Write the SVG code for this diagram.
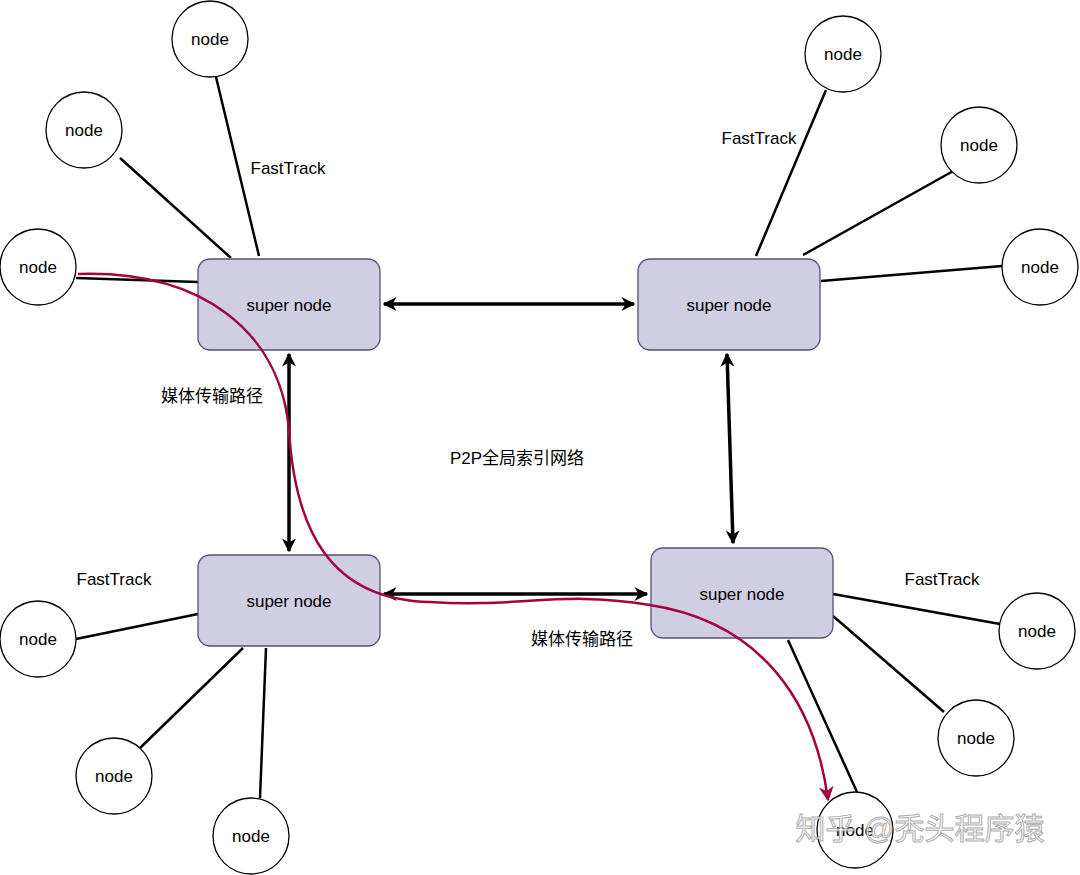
<svg xmlns="http://www.w3.org/2000/svg" width="1080" height="875" viewBox="0 0 1080 875">
<style>
text{font-family:"Liberation Sans","Noto Sans CJK SC",sans-serif;font-size:17px;text-anchor:middle;dominant-baseline:central;fill:#000}
.n circle{fill:#fff;stroke:#000;stroke-width:1.3}
.s rect{fill:#d0cee2;stroke:#56517e;stroke-width:1.3}
.l{stroke:#000;stroke-width:2.5;fill:none}
.a{stroke:#000;stroke-width:3.5;fill:none;marker-start:url(#ah);marker-end:url(#ah)}
</style>
<defs>
<marker id="ah" viewBox="0 0 10 10" refX="9" refY="5" markerWidth="4" markerHeight="4" orient="auto-start-reverse"><path d="M0,0L10,5L0,10L3,5z" fill="#000"/></marker>
<marker id="rh" viewBox="0 0 10 10" refX="9" refY="5" markerWidth="6" markerHeight="6" orient="auto"><path d="M0,0L10,5L0,10L3,5z" fill="#a50040"/></marker>
</defs>
<rect width="1080" height="875" fill="#fff"/>
<g id="connectors">
<path class="l" d="M216,77L259,256M120,158L231,258M76,278L198,282M826,90L756,256M955,170L803,255M1002,266L821,281M76,639L198,614M140,748L243,648M260,798L266,648M1000,624L833,594M944,712L833,616M857,792L788,640"/>
<path class="a" d="M384,304L634,304"/>
<path class="a" d="M289,354L289,551"/>
<path class="a" d="M727,354L733,543"/>
<path class="a" d="M384,594L647,594"/>
</g>
<g id="sn1" class="s"><rect x="198" y="259" width="182" height="91" rx="12"/><text x="289" y="305">super node</text></g>
<g id="sn2" class="s"><rect x="638" y="259" width="182" height="91" rx="12"/><text x="729" y="305">super node</text></g>
<g id="sn3" class="s"><rect x="198" y="555" width="182" height="91" rx="12"/><text x="289" y="601">super node</text></g>
<g id="sn4" class="s"><rect x="651" y="548" width="182" height="90" rx="12"/><text x="742" y="594">super node</text></g>
<g id="n1" class="n"><circle cx="210" cy="39" r="38"/><text x="210" y="39">node</text></g>
<g id="n2" class="n"><circle cx="84" cy="130" r="38"/><text x="84" y="130">node</text></g>
<g id="n3" class="n"><circle cx="38" cy="267" r="38"/><text x="38" y="267">node</text></g>
<g id="n4" class="n"><circle cx="843" cy="54" r="38"/><text x="843" y="54">node</text></g>
<g id="n5" class="n"><circle cx="979" cy="145" r="38"/><text x="979" y="145">node</text></g>
<g id="n6" class="n"><circle cx="1040" cy="267" r="38"/><text x="1040" y="267">node</text></g>
<g id="n7" class="n"><circle cx="38" cy="639" r="38"/><text x="38" y="639">node</text></g>
<g id="n8" class="n"><circle cx="114" cy="776" r="38"/><text x="114" y="776">node</text></g>
<g id="n9" class="n"><circle cx="251" cy="836" r="38"/><text x="251" y="836">node</text></g>
<g id="n10" class="n"><circle cx="1037" cy="631" r="38"/><text x="1037" y="631">node</text></g>
<g id="n11" class="n"><circle cx="976" cy="738" r="38"/><text x="976" y="738">node</text></g>
<g id="n12" class="n"><circle cx="855" cy="830" r="38"/><text x="855" y="830">node</text></g>
<g id="media-path">
<path d="M78,274C200,270 280,330 289,430C295,530 330,600 430,602C520,608 560,590 650,605C760,622 815,700 828,800" fill="none" stroke="#a50040" stroke-width="2.5" marker-end="url(#rh)"/>
</g>
<g id="labels">
<text x="288" y="168">FastTrack</text>
<text x="759" y="138">FastTrack</text>
<text x="114" y="579">FastTrack</text>
<text x="942" y="579">FastTrack</text>
<text x="212" y="396">媒体传输路径</text>
<text x="582" y="639">媒体传输路径</text>
<text x="517" y="458">P2P全局索引网络</text>
<text x="920" y="828" style="font-size:30px;fill:#fff;stroke:#999;stroke-width:1;opacity:0.8">知乎 @秃头程序猿</text>
</g>
</svg>
